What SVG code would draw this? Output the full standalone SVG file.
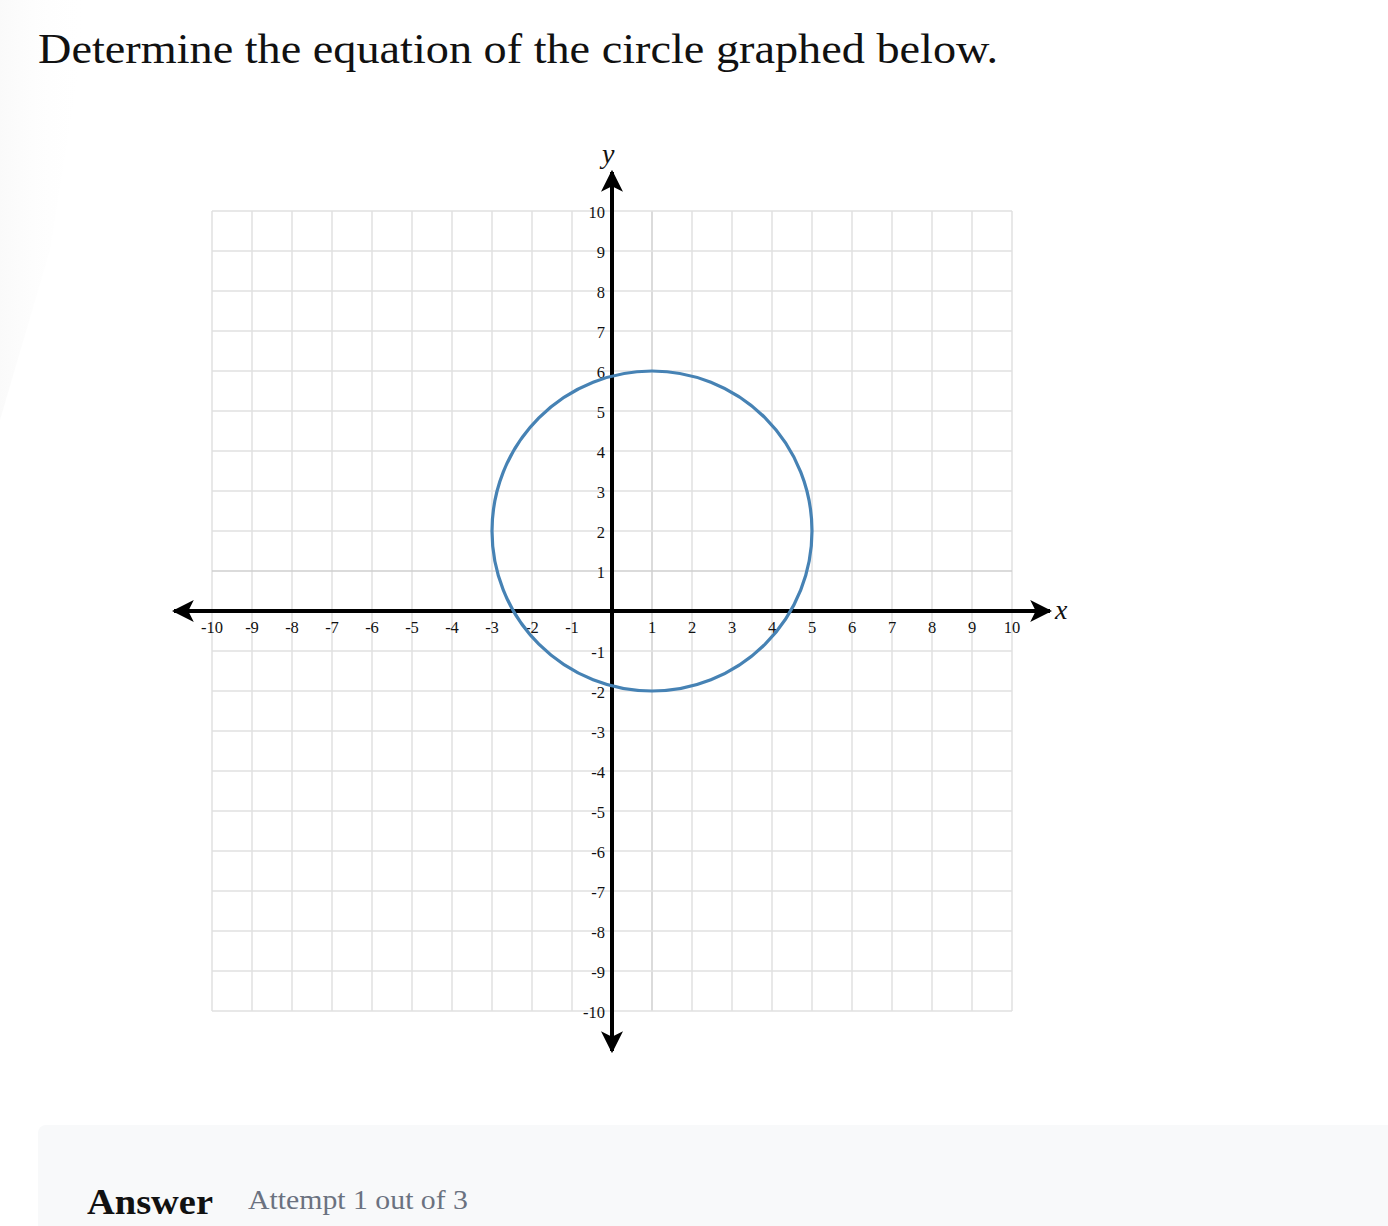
<svg xmlns="http://www.w3.org/2000/svg" width="1388" height="1226" viewBox="0 0 1388 1226">
<style>
.grid line{stroke:#e0e0e0;stroke-width:1.5}
.grid line.dk{stroke:#cfcfcf}
.axis{stroke:#000;stroke-width:4}
.lbl{font-family:"Liberation Serif","DejaVu Serif",serif;font-size:16.5px;fill:#111}
.xl{text-anchor:middle}
.yl{text-anchor:end}
.var{font-family:"Liberation Serif","DejaVu Serif",serif;font-style:italic;font-size:28px;fill:#111}
</style>
<defs>
<marker id="arr" viewBox="0 0 10 10" refX="9" refY="5" markerWidth="5.5" markerHeight="5.5" orient="auto-start-reverse" markerUnits="strokeWidth">
<path d="M0,0 L10,5 L0,10 L2.5,5 Z" fill="#000"/>
</marker>
<linearGradient id="sh" x1="0" y1="0" x2="1" y2="0">
<stop offset="0" stop-color="#f4f4f4"/>
<stop offset="1" stop-color="#ffffff" stop-opacity="0"/>
</linearGradient>
</defs>
<rect width="1388" height="1226" fill="#fff"/>
<path d="M0,0 L90,0 L50,250 L0,420 Z" fill="url(#sh)" opacity="0.45"/>
<text x="38" y="63" font-family="Liberation Serif,DejaVu Serif,serif" font-size="42" fill="#111" textLength="960" lengthAdjust="spacingAndGlyphs">Determine the equation of the circle graphed below.</text>
<g id="grid" class="grid">
<line x1="212" y1="211" x2="212" y2="1011"/><line x1="252" y1="211" x2="252" y2="1011"/><line x1="292" y1="211" x2="292" y2="1011"/><line x1="332" y1="211" x2="332" y2="1011"/><line x1="372" y1="211" x2="372" y2="1011"/><line x1="412" y1="211" x2="412" y2="1011"/><line x1="452" y1="211" x2="452" y2="1011"/><line x1="492" y1="211" x2="492" y2="1011"/><line x1="532" y1="211" x2="532" y2="1011"/><line x1="572" y1="211" x2="572" y2="1011"/><line class="dk" x1="652" y1="211" x2="652" y2="1011"/><line x1="692" y1="211" x2="692" y2="1011"/><line x1="732" y1="211" x2="732" y2="1011"/><line x1="772" y1="211" x2="772" y2="1011"/><line x1="812" y1="211" x2="812" y2="1011"/><line x1="852" y1="211" x2="852" y2="1011"/><line x1="892" y1="211" x2="892" y2="1011"/><line x1="932" y1="211" x2="932" y2="1011"/><line x1="972" y1="211" x2="972" y2="1011"/><line x1="1012" y1="211" x2="1012" y2="1011"/>
<line x1="212" y1="211" x2="1012" y2="211"/><line x1="212" y1="251" x2="1012" y2="251"/><line x1="212" y1="291" x2="1012" y2="291"/><line x1="212" y1="331" x2="1012" y2="331"/><line x1="212" y1="371" x2="1012" y2="371"/><line x1="212" y1="411" x2="1012" y2="411"/><line x1="212" y1="451" x2="1012" y2="451"/><line x1="212" y1="491" x2="1012" y2="491"/><line x1="212" y1="531" x2="1012" y2="531"/><line class="dk" x1="212" y1="571" x2="1012" y2="571"/><line x1="212" y1="651" x2="1012" y2="651"/><line x1="212" y1="691" x2="1012" y2="691"/><line x1="212" y1="731" x2="1012" y2="731"/><line x1="212" y1="771" x2="1012" y2="771"/><line x1="212" y1="811" x2="1012" y2="811"/><line x1="212" y1="851" x2="1012" y2="851"/><line x1="212" y1="891" x2="1012" y2="891"/><line x1="212" y1="931" x2="1012" y2="931"/><line x1="212" y1="971" x2="1012" y2="971"/><line x1="212" y1="1011" x2="1012" y2="1011"/>
</g>
<g id="axes">
<line class="axis" x1="174" y1="611" x2="1050" y2="611" marker-start="url(#arr)" marker-end="url(#arr)"/>
<line class="axis" x1="612" y1="1051" x2="612" y2="172" marker-start="url(#arr)" marker-end="url(#arr)"/>
<text class="var" x="1055" y="619">x</text>
<text class="var" x="602" y="163">y</text>
</g>
<g id="xlabels" class="lbl xl">
<text x="212" y="633">-10</text><text x="252" y="633">-9</text><text x="292" y="633">-8</text><text x="332" y="633">-7</text><text x="372" y="633">-6</text><text x="412" y="633">-5</text><text x="452" y="633">-4</text><text x="492" y="633">-3</text><text x="532" y="633">-2</text><text x="572" y="633">-1</text><text x="652" y="633">1</text><text x="692" y="633">2</text><text x="732" y="633">3</text><text x="772" y="633">4</text><text x="812" y="633">5</text><text x="852" y="633">6</text><text x="892" y="633">7</text><text x="932" y="633">8</text><text x="972" y="633">9</text><text x="1012" y="633">10</text>
</g>
<g id="ylabels" class="lbl yl">
<text x="605" y="218">10</text><text x="605" y="258">9</text><text x="605" y="298">8</text><text x="605" y="338">7</text><text x="605" y="378">6</text><text x="605" y="418">5</text><text x="605" y="458">4</text><text x="605" y="498">3</text><text x="605" y="538">2</text><text x="605" y="578">1</text><text x="605" y="658">-1</text><text x="605" y="698">-2</text><text x="605" y="738">-3</text><text x="605" y="778">-4</text><text x="605" y="818">-5</text><text x="605" y="858">-6</text><text x="605" y="898">-7</text><text x="605" y="938">-8</text><text x="605" y="978">-9</text><text x="605" y="1018">-10</text>
</g>
<g id="circle">
<circle cx="652" cy="531" r="160" fill="none" stroke="#4682b4" stroke-width="3.2"/>
</g>
<g id="answer">
<rect x="38" y="1125" width="1380" height="140" rx="8" fill="#f8f9fa"/>
<text x="87" y="1214" font-family="Liberation Serif,DejaVu Serif,serif" font-weight="bold" font-size="35" fill="#111" textLength="126" lengthAdjust="spacingAndGlyphs">Answer</text>
<text x="248" y="1209" font-family="Liberation Serif,DejaVu Serif,serif" font-size="27" fill="#6b7280" textLength="220" lengthAdjust="spacingAndGlyphs">Attempt 1 out of 3</text>
</g>
</svg>
